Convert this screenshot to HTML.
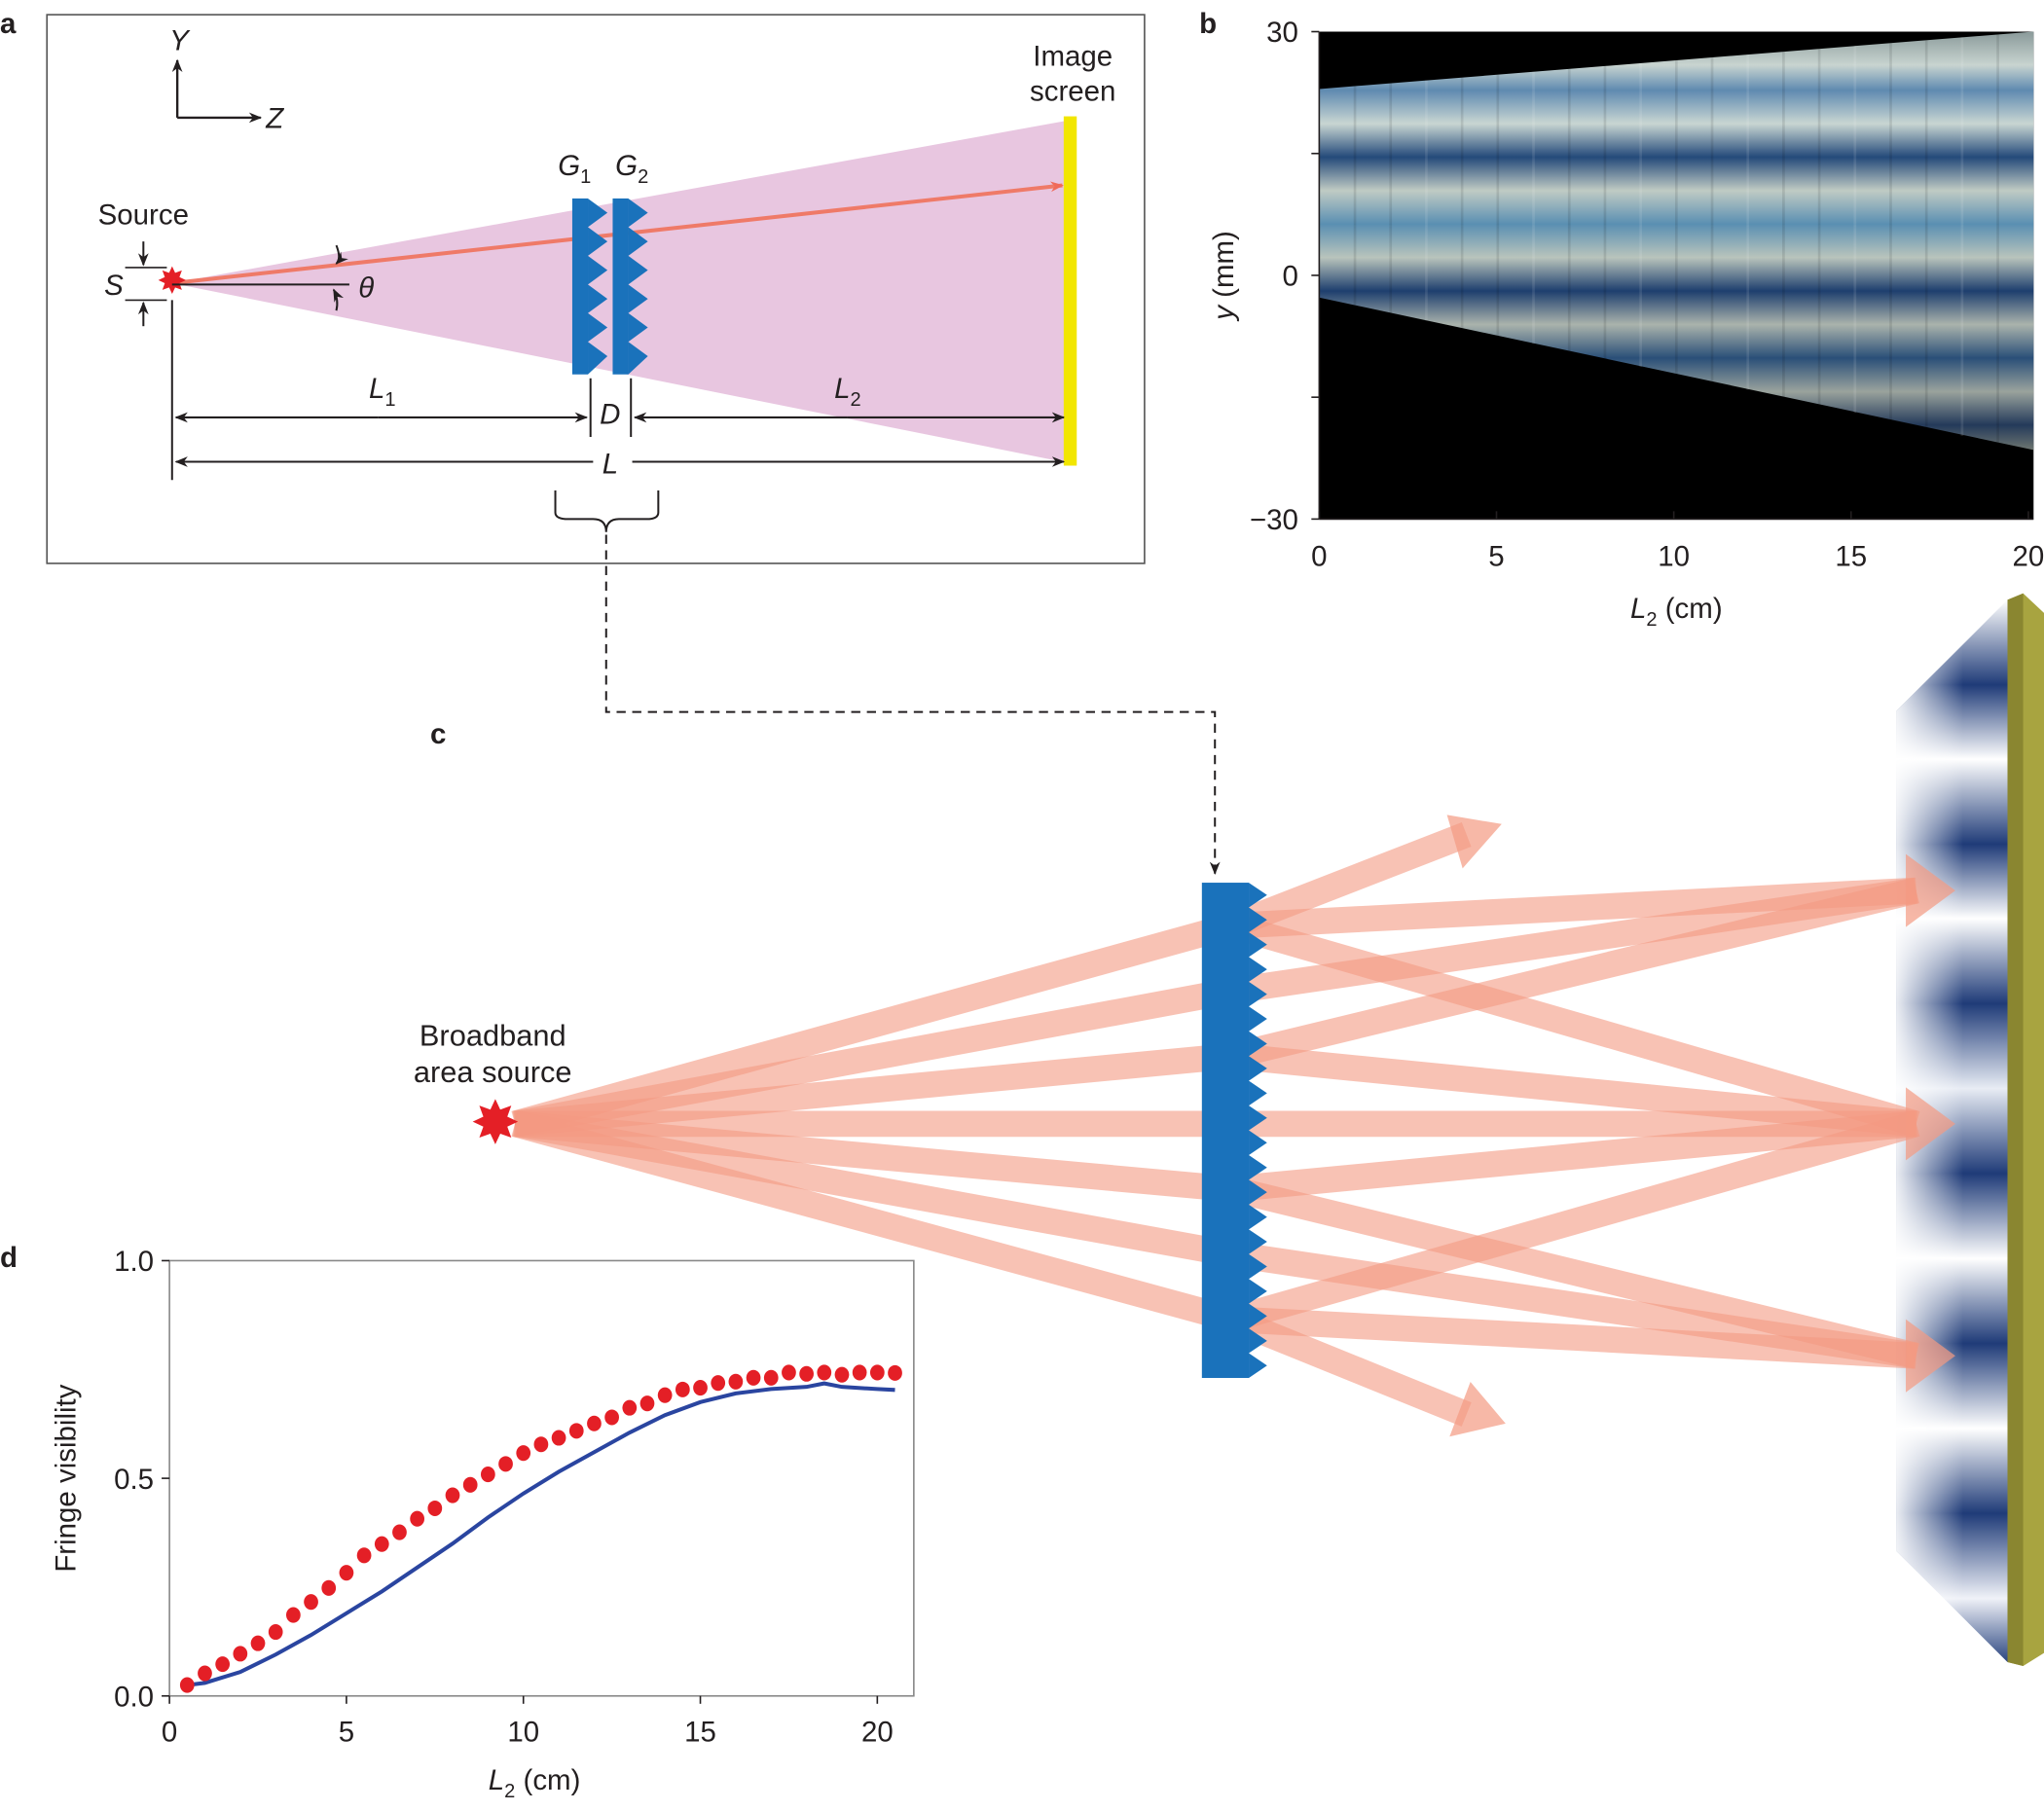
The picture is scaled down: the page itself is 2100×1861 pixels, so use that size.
<!DOCTYPE html>
<html><head><meta charset="utf-8"><style>
html,body{margin:0;padding:0;background:#fff}
svg{display:block}
text{font-family:"Liberation Sans",sans-serif;fill:#231f20}
</style></head><body>
<svg id="fig" width="2100" height="1861" viewBox="0 0 1568 1389" xmlns="http://www.w3.org/2000/svg">
<defs>
<linearGradient id="stripes" x1="0" y1="0" x2="0" y2="1">
<stop offset="0" stop-color="#8a9a9a"/><stop offset="0.08" stop-color="#c8d4d0"/><stop offset="0.14" stop-color="#5f8ab0"/>
<stop offset="0.22" stop-color="#c9d6d2"/><stop offset="0.3" stop-color="#244a7a"/><stop offset="0.38" stop-color="#c0cbc4"/>
<stop offset="0.46" stop-color="#5a8fb2"/><stop offset="0.54" stop-color="#b9c4bc"/><stop offset="0.62" stop-color="#1e3f6e"/>
<stop offset="0.7" stop-color="#aab3ac"/><stop offset="0.78" stop-color="#2a4f78"/><stop offset="0.86" stop-color="#9aa39d"/>
<stop offset="0.94" stop-color="#243a5a"/><stop offset="1" stop-color="#6d7570"/>
</linearGradient>
<linearGradient id="screenG" x1="0" y1="0" x2="0" y2="1">
<stop offset="0" stop-color="#ffffff"/><stop offset="0.08" stop-color="#1f3b78"/><stop offset="0.15" stop-color="#ffffff"/>
<stop offset="0.23" stop-color="#1f3b78"/><stop offset="0.3" stop-color="#ffffff"/><stop offset="0.38" stop-color="#1f3b78"/>
<stop offset="0.46" stop-color="#e8ecf4"/><stop offset="0.54" stop-color="#1f3b78"/><stop offset="0.62" stop-color="#ffffff"/>
<stop offset="0.7" stop-color="#1f3b78"/><stop offset="0.78" stop-color="#ffffff"/><stop offset="0.86" stop-color="#1f3b78"/>
<stop offset="0.94" stop-color="#f0f2f8"/><stop offset="1" stop-color="#2a4580"/>
</linearGradient>
<linearGradient id="screenFade" x1="0" y1="0" x2="1" y2="0">
<stop offset="0" stop-color="#fff" stop-opacity="0.9"/><stop offset="0.6" stop-color="#fff" stop-opacity="0"/>
</linearGradient>
<marker id="ah" markerWidth="10" markerHeight="10" refX="9" refY="5" orient="auto" markerUnits="userSpaceOnUse"><path d="M0,1 L10,5 L0,9 L3,5z" fill="#231f20"/></marker>
<marker id="ahr" markerWidth="10" markerHeight="10" refX="9" refY="5" orient="auto" markerUnits="userSpaceOnUse"><path d="M0,1 L10,5 L0,9 L3,5z" fill="#f06a5a"/></marker>
</defs>

<!-- Panel a -->
<g>
<text x="0" y="25" font-size="22" font-weight="bold">a</text>
<rect x="36" y="11" width="842" height="421" fill="none" stroke="#555" stroke-width="1.2"/>
<polygon points="132,217 820,92 820,355" fill="#e8c6e0"/>
<rect x="816" y="89" width="10" height="268" fill="#f2e600"/>
<line x1="132" y1="217" x2="815" y2="142" stroke="#ef7a68" stroke-width="3" marker-end="url(#ahr)"/>
<g><rect x="439" y="152" width="12" height="135" fill="#1a72bb"/>
<path d="M451,152 L466,163 L451,174 L466,185 L451,196 L466,207 L451,218 L466,229 L451,240 L466,251 L451,262 L466,273 L451,287z" fill="#1a72bb"/></g>
<g><rect x="470" y="152" width="12" height="135" fill="#1a72bb"/>
<path d="M482,152 L497,163 L482,174 L497,185 L482,196 L497,207 L482,218 L497,229 L482,240 L497,251 L482,262 L497,273 L482,287z" fill="#1a72bb"/></g>
<text x="428" y="134" font-size="22" font-style="italic">G<tspan font-size="15" dy="6" font-style="normal">1</tspan></text>
<text x="472" y="134" font-size="22" font-style="italic">G<tspan font-size="15" dy="6" font-style="normal">2</tspan></text>
<text x="132" y="215" font-size="28" fill="#e41f26" style="fill:#e41f26" text-anchor="middle" dy="10">✸</text>
<text x="110" y="172" font-size="22" text-anchor="middle">Source</text>
<line x1="110" y1="185" x2="110" y2="203" stroke="#231f20" stroke-width="1.5" marker-end="url(#ah)"/>
<line x1="110" y1="250" x2="110" y2="232" stroke="#231f20" stroke-width="1.5" marker-end="url(#ah)"/>
<line x1="96" y1="205" x2="128" y2="205" stroke="#231f20" stroke-width="1.2"/>
<line x1="96" y1="230" x2="128" y2="230" stroke="#231f20" stroke-width="1.2"/>
<text x="80" y="226" font-size="22" font-style="italic">S</text>
<line x1="132" y1="218" x2="268" y2="218" stroke="#231f20" stroke-width="1.5"/>
<path d="M258,188 Q262,198 258,202" fill="none" stroke="#231f20" stroke-width="1.5" marker-end="url(#ah)"/>
<path d="M258,238 Q260,230 256,222" fill="none" stroke="#231f20" stroke-width="1.5" marker-end="url(#ah)"/>
<text x="275" y="228" font-size="22" font-style="italic">θ</text>
<g>
<line x1="136" y1="90" x2="136" y2="46" stroke="#231f20" stroke-width="1.8" marker-end="url(#ah)"/>
<line x1="136" y1="90" x2="200" y2="90" stroke="#231f20" stroke-width="1.8" marker-end="url(#ah)"/>
<text x="130" y="38" font-size="22" font-style="italic">Y</text>
<text x="204" y="98" font-size="22" font-style="italic">Z</text></g>
<text x="823" y="50" font-size="22" text-anchor="middle">Image</text>
<text x="823" y="77" font-size="22" text-anchor="middle">screen</text>
<g stroke="#231f20" stroke-width="1.5">
<line x1="132" y1="230" x2="132" y2="368"/>
<line x1="453" y1="290" x2="453" y2="335"/><line x1="484" y1="290" x2="484" y2="335"/>
<line x1="290" y1="320" x2="135" y2="320" marker-end="url(#ah)"/>
<line x1="290" y1="320" x2="450" y2="320" marker-end="url(#ah)"/>
<line x1="650" y1="320" x2="487" y2="320" marker-end="url(#ah)"/>
<line x1="650" y1="320" x2="816" y2="320" marker-end="url(#ah)"/>
<line x1="455" y1="354" x2="135" y2="354" marker-end="url(#ah)"/>
<line x1="485" y1="354" x2="816" y2="354" marker-end="url(#ah)"/>
<path d="M426,376 L426,393 Q426,398 436,398 L455,398 Q465,398 465,408 Q465,398 475,398 L496,398 Q505,398 505,393 L505,376" fill="none"/>
</g>
<text x="283" y="305" font-size="22" font-style="italic">L<tspan font-size="15" dy="6" font-style="normal">1</tspan></text>
<text x="460" y="325" font-size="22" font-style="italic">D</text>
<text x="640" y="305" font-size="22" font-style="italic">L<tspan font-size="15" dy="6" font-style="normal">2</tspan></text>
<text x="462" y="363" font-size="22" font-style="italic">L</text>
<path d="M465,410 L465,546 L932,546 L932,670" fill="none" stroke="#231f20" stroke-width="1.5" stroke-dasharray="7,5" marker-end="url(#ah)"/>
</g>

<!-- Panel b -->
<g>
<text x="920" y="25" font-size="22" font-weight="bold">b</text>
<rect x="1012" y="24" width="548" height="374" fill="#000"/>
<polygon points="1012,68 1560,24 1560,345 1012,228" fill="url(#stripes)"/>
<g id="bvstripes"></g>
<line x1="1012" y1="24" x2="1012" y2="398" stroke="#231f20" stroke-width="1.2"/>
<line x1="1012" y1="398" x2="1560" y2="398" stroke="#231f20" stroke-width="1.2"/>
<g id="baxes"></g>
<text x="946" y="211" font-size="22" text-anchor="middle" transform="rotate(-90 946 211)"><tspan font-style="italic">y</tspan> (mm)</text>
<text x="1286" y="474" font-size="22" text-anchor="middle"><tspan font-style="italic">L</tspan><tspan font-size="15" dy="6">2</tspan><tspan dy="-6"> (cm)</tspan></text>
</g>

<!-- Panel c -->
<g>
<text x="330" y="570" font-size="22" font-weight="bold">c</text>
<g>
<polygon points="1455,545 1540,460 1540,1275 1455,1190" fill="url(#screenG)"/>
<polygon points="1455,545 1540,460 1540,1275 1455,1190" fill="url(#screenFade)"/>
<polygon points="1540,460 1552,455 1568,470 1568,1268 1552,1278 1540,1275" fill="#a8a440"/>
<polygon points="1540,460 1552,455 1552,1278 1540,1275" fill="#8a8630"/>
</g>
<g id="rays" stroke="#f49a82" stroke-opacity="0.6" stroke-width="20" fill="none"></g>
<g><rect x="922" y="677" width="36" height="380" fill="#1a72bb"/>
<path id="cteeth" fill="#1a72bb"/></g>
<text x="380" y="877" font-size="46" text-anchor="middle" style="fill:#e41f26">✸</text>
<text x="378" y="802" font-size="23" text-anchor="middle">Broadband</text>
<text x="378" y="830" font-size="23" text-anchor="middle">area source</text>
</g>

<!-- Panel d -->
<g>
<text x="0" y="972" font-size="22" font-weight="bold">d</text>
<rect x="130" y="967" width="571" height="334" fill="none" stroke="#888" stroke-width="1.2"/>
<g id="daxes"></g>
<path id="dline" fill="none" stroke="#2a45a0" stroke-width="3"/>
<g id="ddots"></g>
<text x="58" y="1134" font-size="22" text-anchor="middle" transform="rotate(-90 58 1134)">Fringe visibility</text>
<text x="410" y="1373" font-size="22" text-anchor="middle"><tspan font-style="italic">L</tspan><tspan font-size="15" dy="6">2</tspan><tspan dy="-6"> (cm)</tspan></text>
</g>
</svg>
<script>
const NS='http://www.w3.org/2000/svg';
// Panel d data
const dotX=[0.5,1,1.5,2,2.5,3,3.5,4,4.5,5,5.5,6,6.5,7,7.5,8,8.5,9,9.5,10,10.5,11,11.5,12,12.5,13,13.5,14,14.5,15,15.5,16,16.5,17,17.5,18,18.5,19,19.5,20,20.5];
const dotY=[0.025,0.052,0.073,0.097,0.121,0.147,0.186,0.216,0.248,0.283,0.323,0.349,0.376,0.407,0.431,0.461,0.485,0.509,0.533,0.558,0.578,0.593,0.609,0.626,0.64,0.662,0.672,0.691,0.704,0.708,0.719,0.722,0.731,0.731,0.743,0.74,0.743,0.738,0.743,0.743,0.742];
const lineX=[0.5,1,2,3,4,5,6,7,8,9,10,11,12,13,14,15,16,17,18,18.5,19,20,20.5];
const lineY=[0.025,0.03,0.055,0.095,0.14,0.19,0.24,0.295,0.35,0.41,0.465,0.515,0.56,0.605,0.645,0.675,0.695,0.705,0.71,0.718,0.71,0.705,0.703];
const dXTicks=[0,5,10,15,20];
const dYTicks=[0.0,0.5,1.0];
const dYLabels=['0.0','0.5','1.0'];
// Panel b ticks
const bXTicks=[0,5,10,15,20];
const bYTicks=[30,0,-30];
const bYLabels=['30','0','\u221230'];
const bYMinor=[15,-15];

const dx=v=>130+v*27.15, dy=v=>1301-v*334;
const bx=v=>1012+v*27.2, by=v=>211-v*6.233;

function mk(tag,attrs,parent){const e=document.createElementNS(NS,tag);for(const k in attrs)e.setAttribute(k,attrs[k]);parent.appendChild(e);return e;}

const da=document.getElementById('daxes');
dXTicks.forEach(t=>{
  const l=mk('line',{x1:dx(t),y1:1301,x2:dx(t),y2:1307,stroke:'#231f20','stroke-width':1.2},da);
  const tx=mk('text',{x:dx(t),y:1336,'font-size':22,'text-anchor':'middle'},da);tx.textContent=t;
  
  
});
dYTicks.forEach((t,i)=>{
  mk('line',{x1:124,y1:dy(t),x2:130,y2:dy(t),stroke:'#231f20','stroke-width':1.2},da);
  const tx=mk('text',{x:118,y:dy(t)+8,'font-size':22,'text-anchor':'end'},da);tx.textContent=dYLabels[i];
  
  
});
document.getElementById('dline').setAttribute('d',lineX.map((x,i)=>(i?'L':'M')+dx(x)+','+dy(lineY[i])).join(' '));
const dd=document.getElementById('ddots');
dotX.forEach((x,i)=>{
  const c=mk('ellipse',{cx:dx(x),cy:dy(dotY[i]),rx:5.5,ry:6,fill:'#e41f26'},dd);
  
  
});

const ba=document.getElementById('baxes');
bXTicks.forEach(t=>{
  mk('line',{x1:bx(t),y1:398,x2:bx(t),y2:392,stroke:'#231f20','stroke-width':1.2},ba);
  const tx=mk('text',{x:bx(t),y:434,'font-size':22,'text-anchor':'middle'},ba);tx.textContent=t;
  
  
});
bYTicks.forEach((t,i)=>{
  mk('line',{x1:1006,y1:by(t),x2:1012,y2:by(t),stroke:'#231f20','stroke-width':1.2},ba);
  const tx=mk('text',{x:996,y:by(t)+8,'font-size':22,'text-anchor':'end'},ba);tx.textContent=bYLabels[i];
  
  
});
bYMinor.forEach(t=>mk('line',{x1:1006,y1:by(t),x2:1012,y2:by(t),stroke:'#231f20','stroke-width':1.2},ba));
const bv=document.getElementById('bvstripes');
for(let i=1;i<20;i++){
  const x=1012+i*27.4;
  mk('line',{x1:x,y1:68-i*2.2,x2:x,y2:228+i*5.9,stroke:i%3?'#000':'#fff','stroke-opacity':0.1,'stroke-width':2},bv);
}

// Panel c rays
const rays=document.getElementById('rays');
const src=[395,862];
const hits=[710,760,810,862,912,962,1012];
hits.forEach(h=>mk('line',{x1:src[0],y1:src[1],x2:945,y2:h},rays));
const targets=[683,862,1040];
const outs=[[710,683],[810,683],[760,683],[810,862],[912,862],[862,862],[912,1040],[1012,1040],[962,1040],[710,862],[1012,862]];
outs.forEach(o=>mk('line',{x1:945,y1:o[0],x2:1470,y2:o[1]},rays));
mk('line',{x1:945,y1:710,x2:1125,y2:640},rays);
mk('line',{x1:945,y1:1012,x2:1125,y2:1085},rays);
targets.forEach(t=>mk('polygon',{points:`1462,${t-28} 1500,${t} 1462,${t+28}`,fill:'#f49a82','fill-opacity':0.7,stroke:'none'},rays));
mk('polygon',{points:'1110,625 1152,632 1122,666',fill:'#f49a82','fill-opacity':0.7,stroke:'none'},rays);
mk('polygon',{points:'1112,1102 1155,1092 1128,1060',fill:'#f49a82','fill-opacity':0.7,stroke:'none'},rays);
let p='M958,677';
for(let y=677;y<1057;y+=19){p+=` L972,${y+9.5} L958,${y+19}`;}
p+=' L958,1057 Z';
document.getElementById('cteeth').setAttribute('d',p);
</script>
</body></html>
